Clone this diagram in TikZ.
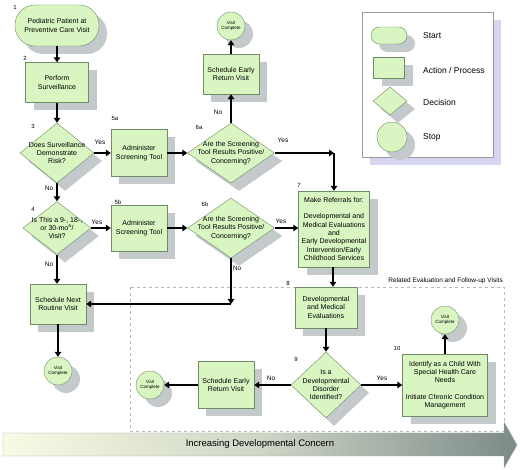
\documentclass[tikz,border=0pt]{standalone}
\usepackage{fontspec}
\setmainfont{Liberation Sans}
\usetikzlibrary{shapes.geometric}
\usetikzlibrary{shadows}
\usetikzlibrary{arrows.meta}

\definecolor{boxfill}{RGB}{217,245,194}
\definecolor{boxline}{RGB}{112,140,100}
\definecolor{shadowgray}{RGB}{196,201,204}
\definecolor{legendshadow}{RGB}{214,214,240}
\definecolor{bandleft}{RGB}{248,250,228}
\definecolor{bandmid}{RGB}{206,214,198}
\definecolor{bandright}{RGB}{124,138,136}

\tikzset{
  shadebox/.style={drop shadow={shadow xshift=8pt,shadow yshift=-8pt,fill=shadowgray,opacity=1}},
  txt/.style={font=\fontsize{7}{8.4}\selectfont},
  startbox/.style={rectangle,rounded corners=20pt,draw=boxline,fill=boxfill,shadebox,align=center,txt,minimum width=84,minimum height=41},
  actbox/.style={rectangle,draw=boxline,fill=boxfill,shadebox,align=center,txt,inner sep=1pt},
  decbox/.style={diamond,draw=boxline,fill=boxfill,shadebox,inner sep=0pt},
  dectxt/.style={align=center,txt,inner sep=0pt},
  stopbox/.style={circle,draw=boxline,fill=boxfill,shadebox,align=center,inner sep=0.5pt,minimum size=28,font=\fontsize{4.5}{5.2}\selectfont},
  flow/.style={line width=2.2pt,-{Triangle[length=5pt,width=6.5pt]}},
  numlab/.style={font=\fontsize{6}{7}\selectfont,inner sep=0pt},
  yn/.style={font=\fontsize{6.5}{7}\selectfont,inner sep=0pt},
  legtxt/.style={font=\fontsize{8.5}{10}\selectfont,anchor=west,inner sep=0pt}
}

\begin{document}
\begin{tikzpicture}[x=1pt,y=-1pt]
\useasboundingbox (0,0) rectangle (520,470);

% follow-up region
\draw[gray!55,dashed,thin] (130,287) rectangle (504,431);
\node[font=\fontsize{6.5}{7}\selectfont,anchor=south east,inner sep=0pt] (region) at (503,284) {Related Evaluation and Follow-up Visits};

% left column
\node[startbox] (n1) at (57,25.5) {Pediatric Patient at\\Preventive Care Visit};
\node[actbox,minimum width=63,minimum height=40] (n2) at (57,82.5) {Perform\\Surveillance};
\node[decbox,minimum width=74,minimum height=60,label={[dectxt]center:Does Surveillance\\Demonstrate\\Risk?}] (d3) at (57,153) {};
\node[decbox,minimum width=68,minimum height=53,label={[dectxt]center:Is This a 9-, 18-,\\or 30-mo\textsuperscript{a}/\\Visit?}] (d4) at (57,228) {};
\node[actbox,minimum width=56,minimum height=40] (routine) at (58,304) {Schedule Next\\Routine Visit};
\node[stopbox] (vc1) at (58,371) {Visit\\Complete};

% screening
\node[actbox,minimum width=56,minimum height=47] (n5a) at (139,153) {Administer\\Screening Tool};
\node[actbox,minimum width=56,minimum height=46] (n5b) at (139,228) {Administer\\Screening Tool};
\node[decbox,minimum width=87,minimum height=60,label={[dectxt]center:Are the Screening\\Tool Results Positive/\\Concerning?}] (d6a) at (231,153) {};
\node[decbox,minimum width=87,minimum height=60,label={[dectxt]center:Are the Screening\\Tool Results Positive/\\Concerning?}] (d6b) at (231,228) {};
\node[actbox,minimum width=56,minimum height=40] (early1) at (231,74) {Schedule Early\\Return Visit};
\node[stopbox] (vc2) at (231,26) {Visit\\Complete};

% referrals and evaluation
\node[actbox,minimum width=71,minimum height=76] (n7) at (334,229) {Make Referrals for:\\[8pt]Developmental and\\Medical Evaluations\\and\\Early Developmental\\Intervention/Early\\Childhood Services};
\node[actbox,minimum width=62,minimum height=41] (n8) at (326,307.5) {Developmental\\and Medical\\Evaluations};
\node[decbox,minimum width=70,minimum height=66,label={[dectxt]center:Is a\\Developmental\\Disorder\\Identified?}] (d9) at (326,385) {};
\node[actbox,minimum width=56,minimum height=47] (early2) at (226,385) {Schedule Early\\Return Visit};
\node[stopbox] (vc3) at (150,385) {Visit\\Complete};
\node[actbox,minimum width=85,minimum height=62] (n10) at (445,385) {Identify as a Child With\\Special Health Care\\Needs\\[8pt]Initiate Chronic Condition\\Management};
\node[stopbox] (vc4) at (445,320) {Visit\\Complete};

% step numbers
\node[numlab] (l1) at (15,7) {1};
\node[numlab] (l2) at (25,58) {2};
\node[numlab] (l3) at (33,126) {3};
\node[numlab] (l4) at (33,209) {4};
\node[numlab] (l5a) at (115,118) {5a};
\node[numlab] (l5b) at (118,202) {5b};
\node[numlab] (l6a) at (199,127) {6a};
\node[numlab] (l6b) at (205,204) {6b};
\node[numlab] (l7) at (299,185) {7};
\node[numlab] (l8) at (288,283) {8};
\node[numlab] (l9) at (296,359) {9};
\node[numlab] (l10) at (397,348) {10};

% yes / no
\node[yn] (y3) at (100,142) {Yes};
\node[yn] (no3) at (49,188) {No};
\node[yn] (y4) at (97,222) {Yes};
\node[yn] (no4) at (49,264) {No};
\node[yn] (no6a) at (218,112) {No};
\node[yn] (y6a) at (283,140) {Yes};
\node[yn] (y6b) at (281,221) {Yes};
\node[yn] (no6b) at (237,268) {No};
\node[yn] (no9) at (271,378) {No};
\node[yn] (y9) at (382,378) {Yes};

% connectors
\coordinate (c6a) at (n7.north |- d6a.east);
\coordinate (c6b) at (d6b.south |- routine.east);

\draw[flow] (n1) -- (n2);
\draw[flow] (n2) -- (d3);
\draw[flow] (d3.east) -- (d3.east -| n5a.west);
\draw[flow] (d3.south) -- (d4.north);
\draw[flow] (n5a.east) -- (d6a.west);
\draw[flow] (d4.east) -- (d4.east -| n5b.west);
\draw[flow] (d4.south) -- (d4.south |- routine.north);
\draw[flow] (n5b.east) -- (d6b.west);
\draw[flow] (d6a.north) -- (early1.south);
\draw[flow] (early1) -- (vc2);
\draw[flow] (d6a.east) -- (c6a);
\draw[flow] (c6a) -- (n7.north);
\draw[flow] (d6b.east) -- (d6b.east -| n7.west);
\draw[flow] (d6b.south) -- (c6b);
\draw[flow] (c6b) -- (routine.east);
\draw[flow] (routine) -- (vc1);
\draw[flow] ([xshift=-1pt]n7.south) -- ([xshift=-1pt]n7.south |- n8.north);
\draw[flow] (n8) -- (d9);
\draw[flow] (d9.west) -- (early2.east);
\draw[flow] (early2) -- (vc3);
\draw[flow] (d9.east) -- (n10.west);
\draw[flow] (n10) -- (vc4);

% legend
\node[draw=gray!80,fill=white,drop shadow={shadow xshift=8pt,shadow yshift=-8pt,fill=legendshadow,opacity=1},minimum width=131,minimum height=145] (legend) at (427.5,84.5) {};
\node[startbox,minimum width=36,minimum height=17,rounded corners=8.5pt] (kstart) at (389,35.5) {};
\node[actbox,minimum width=31,minimum height=21] (kact) at (389,67.5) {};
\node[decbox,minimum width=34,minimum height=28] (kdec) at (390,101) {};
\node[stopbox,minimum size=30] (kstop) at (392,137) {};
\node[legtxt] (tstart) at (423,36) {Start};
\node[legtxt] (tact) at (423,70) {Action / Process};
\node[legtxt] (tdec) at (423,102) {Decision};
\node[legtxt] (tstop) at (423,137) {Stop};

% concern band
\path[draw=gray!70,left color=bandleft,right color=bandright,middle color=bandmid]
  (3,433) -- (504,433) -- (504,422) -- (517,445) -- (504,468) -- (504,456) -- (3,456) -- cycle;
\node[font=\fontsize{9.5}{11}\selectfont] (concern) at (260,444.5) {Increasing Developmental Concern};

\end{tikzpicture}
\end{document}
